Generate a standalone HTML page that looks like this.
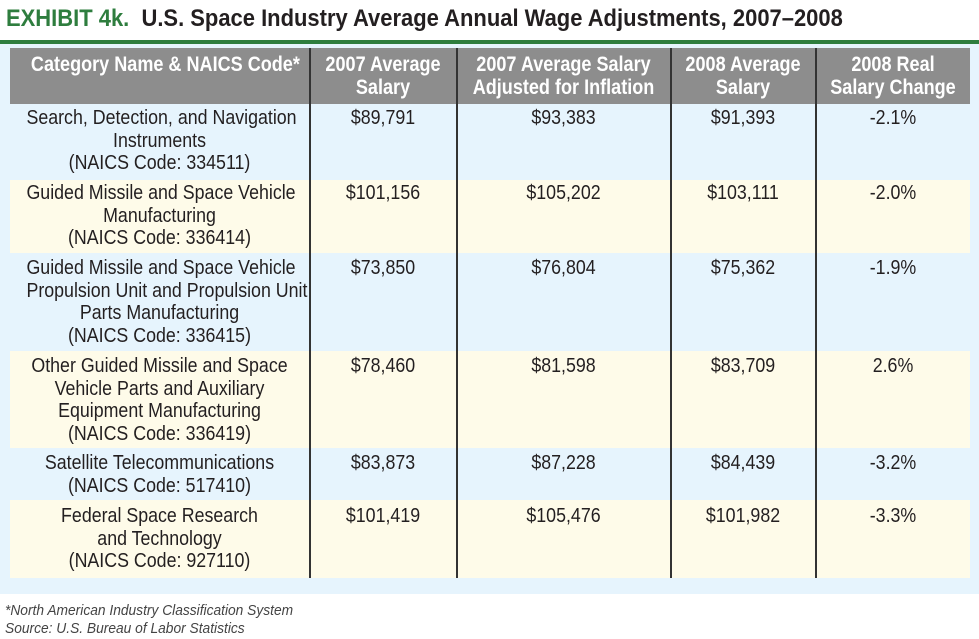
<!DOCTYPE html>
<html><head><meta charset="utf-8"><style>
*{margin:0;padding:0;box-sizing:border-box}
body{width:979px;height:639px;background:#fff;position:relative;overflow:hidden;font-family:"Liberation Sans",Arial,sans-serif;color:#231f20}
.abs{position:absolute}
.title{left:6px;top:5px;font-size:24px;font-weight:bold;white-space:nowrap;transform:scaleX(.915);transform-origin:left center;color:#231f20}
.title .g{color:#2e7d3e}
.bg{left:0;top:44px;width:979px;height:550px;background:#e6f4fd}
.green{left:0;top:40px;width:979px;height:4px;background:#2e7d3e}
.hdr{left:10px;top:48px;width:960px;height:56px;background:#8d8d8d}
.yel{left:10px;width:960px;background:#fefbe9}
.vl{width:1.5px;background:#333;top:48px;height:530px}
.cell{position:absolute;text-align:center;font-size:20px;line-height:22.5px;white-space:nowrap}
.cell>div{transform:scaleX(.89);transform-origin:center}
.h{color:#fff;font-weight:bold;font-size:21px}
.h>div{transform:scaleX(.86)}
.fn{left:5px;font-size:14.5px;font-style:italic;color:#444;white-space:nowrap;transform:scaleX(.95);transform-origin:left}
</style></head><body>
<div class="abs title"><span class="g">EXHIBIT 4k.</span>&nbsp; U.S. Space Industry Average Annual Wage Adjustments, 2007–2008</div>
<div class="abs bg"></div>
<div class="abs green"></div>
<div class="abs hdr"></div>
<div class="abs yel" style="top:180px;height:73px"></div>
<div class="abs yel" style="top:351px;height:97px"></div>
<div class="abs yel" style="top:500px;height:78px"></div>
<div class="abs vl" style="left:309px"></div>
<div class="abs vl" style="left:456px"></div>
<div class="abs vl" style="left:670px"></div>
<div class="abs vl" style="left:815px"></div>

<!-- header -->
<div class="cell h" style="left:10px;width:299px;top:54px"><div>Category Name &amp; NAICS Code*</div></div>
<div class="cell h" style="left:310px;width:146px;top:54px"><div>2007 Average<br>Salary</div></div>
<div class="cell h" style="left:457px;width:213px;top:54px"><div>2007 Average Salary<br>Adjusted for Inflation</div></div>
<div class="cell h" style="left:671px;width:144px;top:54px"><div>2008 Average<br>Salary</div></div>
<div class="cell h" style="left:816px;width:154px;top:54px"><div>2008 Real<br>Salary Change</div></div>

<!-- rows -->
<div class="cell" style="left:10px;width:299px;top:107px"><div>Search, Detection, and Navigation<br>Instruments<br>(NAICS Code: 334511)</div></div>
<div class="cell" style="left:310px;width:146px;top:107px"><div>$89,791</div></div>
<div class="cell" style="left:457px;width:213px;top:107px"><div>$93,383</div></div>
<div class="cell" style="left:671px;width:144px;top:107px"><div>$91,393</div></div>
<div class="cell" style="left:816px;width:154px;top:107px"><div>-2.1%</div></div>

<div class="cell" style="left:10px;width:299px;top:182px"><div>Guided Missile and Space Vehicle<br>Manufacturing<br>(NAICS Code: 336414)</div></div>
<div class="cell" style="left:310px;width:146px;top:182px"><div>$101,156</div></div>
<div class="cell" style="left:457px;width:213px;top:182px"><div>$105,202</div></div>
<div class="cell" style="left:671px;width:144px;top:182px"><div>$103,111</div></div>
<div class="cell" style="left:816px;width:154px;top:182px"><div>-2.0%</div></div>

<div class="cell" style="left:10px;width:299px;top:257px"><div>Guided Missile and Space Vehicle<br>Propulsion Unit and Propulsion Unit<br>Parts Manufacturing<br>(NAICS Code: 336415)</div></div>
<div class="cell" style="left:310px;width:146px;top:257px"><div>$73,850</div></div>
<div class="cell" style="left:457px;width:213px;top:257px"><div>$76,804</div></div>
<div class="cell" style="left:671px;width:144px;top:257px"><div>$75,362</div></div>
<div class="cell" style="left:816px;width:154px;top:257px"><div>-1.9%</div></div>

<div class="cell" style="left:10px;width:299px;top:355px"><div>Other Guided Missile and Space<br>Vehicle Parts and Auxiliary<br>Equipment Manufacturing<br>(NAICS Code: 336419)</div></div>
<div class="cell" style="left:310px;width:146px;top:355px"><div>$78,460</div></div>
<div class="cell" style="left:457px;width:213px;top:355px"><div>$81,598</div></div>
<div class="cell" style="left:671px;width:144px;top:355px"><div>$83,709</div></div>
<div class="cell" style="left:816px;width:154px;top:355px"><div>2.6%</div></div>

<div class="cell" style="left:10px;width:299px;top:452px"><div>Satellite Telecommunications<br>(NAICS Code: 517410)</div></div>
<div class="cell" style="left:310px;width:146px;top:452px"><div>$83,873</div></div>
<div class="cell" style="left:457px;width:213px;top:452px"><div>$87,228</div></div>
<div class="cell" style="left:671px;width:144px;top:452px"><div>$84,439</div></div>
<div class="cell" style="left:816px;width:154px;top:452px"><div>-3.2%</div></div>

<div class="cell" style="left:10px;width:299px;top:505px"><div>Federal Space Research<br>and Technology<br>(NAICS Code: 927110)</div></div>
<div class="cell" style="left:310px;width:146px;top:505px"><div>$101,419</div></div>
<div class="cell" style="left:457px;width:213px;top:505px"><div>$105,476</div></div>
<div class="cell" style="left:671px;width:144px;top:505px"><div>$101,982</div></div>
<div class="cell" style="left:816px;width:154px;top:505px"><div>-3.3%</div></div>

<div class="abs fn" style="top:603px">*North American Industry Classification System</div>
<div class="abs fn" style="top:621px">Source: U.S. Bureau of Labor Statistics</div>
</body></html>
